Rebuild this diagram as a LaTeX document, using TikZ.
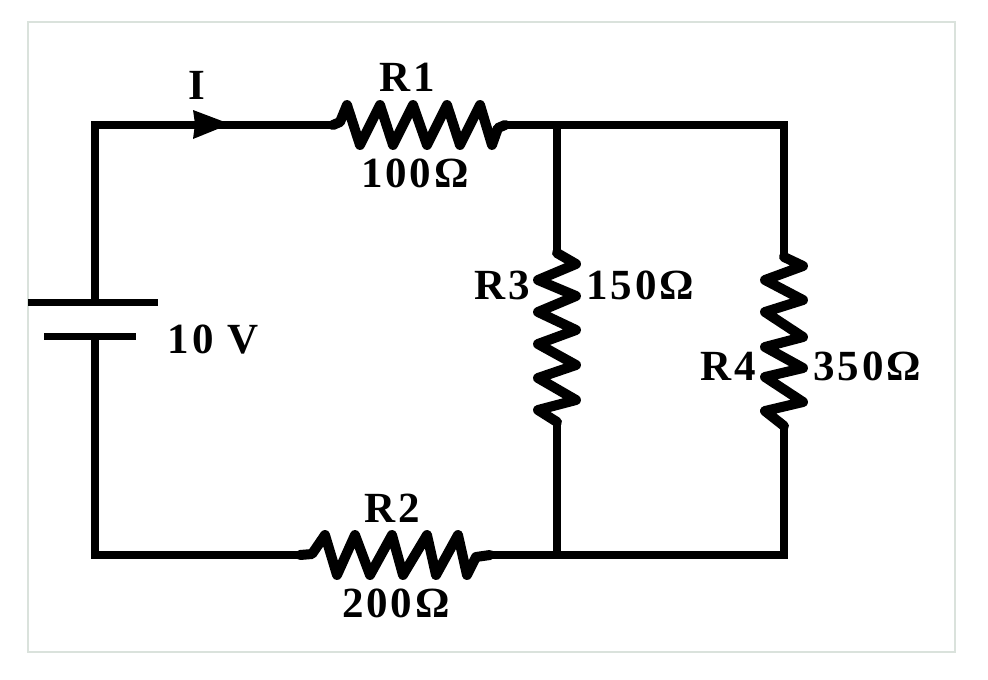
\documentclass[tikz,border=0pt]{standalone}
\usepackage{fontspec}
\setmainfont{Liberation Serif}[LetterSpace=7]
\definecolor{framecol}{RGB}{218,226,220}
\tikzset{
  wire/.style={draw=black,line width=8pt,line join=miter},
  zig/.style={draw=black,line width=10pt,line join=round,line cap=round},
  lab/.style={inner sep=0pt,font=\fontsize{43}{43}\selectfont\bfseries,text=black},
  frame/.style={draw=framecol,line width=1.5pt}
}
\begin{document}
\begin{tikzpicture}[x=1pt,y=-1pt]
\useasboundingbox (0,0) rectangle (988,680);
\fill[white] (0,0) rectangle (988,680);
\draw[frame] (28,22) rectangle (955,652);
% corners and junctions
\coordinate (tl) at (95,125);
\coordinate (tr) at (784,125);
\coordinate (bl) at (95,555);
\coordinate (br) at (784,555);
\coordinate (jt) at (557,125);
\coordinate (jb) at (557,555);
\coordinate (bp) at (95,302);
\coordinate (bn) at (95,336);
\coordinate (r1a) at (333,125);
\coordinate (r1b) at (505,125);
\coordinate (r2a) at (300,555);
\coordinate (r2b) at (490,555);
\coordinate (r3a) at (557,253);
\coordinate (r3b) at (557,422);
\coordinate (r4a) at (784,257);
\coordinate (r4b) at (784,426);
% wires
\draw[wire] (bp) -- (tl) -- (r1a);
\draw[wire] (r1b) -- (tr) -- (r4a);
\draw[wire] (jt) -- (r3a);
\draw[wire] (r3b) -- (jb);
\draw[wire] (r4b) -- (br) -- (r2b);
\draw[wire] (r2a) -- (bl) -- (bn);
% battery
\draw[draw=black,line width=7pt] (28,302) -- (158,302);
\draw[draw=black,line width=7pt] (44,336) -- (136,336);
% resistors
\draw[zig] (r1a) -- (340,122) -- (347,105) -- (360,145) -- (380,105) -- (393,145) -- (413,105) -- (427,145) -- (447,105) -- (460,145) -- (480,105) -- (492,145) -- (498,128) -- (r1b);
\draw[zig] (r2a) -- (312,554) -- (325,535) -- (337,575) -- (355,535) -- (370,575) -- (392,535) -- (403,575) -- (427,535) -- (436,575) -- (458,535) -- (467,575) -- (476,557) -- (r2b);
\draw[zig] (r3a) -- (576,264) -- (538,280) -- (576,296) -- (538,312) -- (576,330) -- (538,344) -- (576,365) -- (538,378) -- (576,400) -- (538,410) -- (r3b);
\draw[zig] (r4a) -- (803,266) -- (765,280) -- (803,300) -- (765,312) -- (803,337) -- (765,347) -- (803,368) -- (765,377) -- (803,402) -- (765,411) -- (r4b);
% arrow
\fill[black] (230,124) -- (193,110) -- (195,124) -- (193,139) -- cycle;
% labels
\node[lab] (li) at (197,85) {I};
\node[lab] (lr1) at (407,77) {R1};
\node[lab] (v1) at (415,173) {100Ω};
\node[lab] (lr2) at (392,508) {R2};
\node[lab] (v2) at (396,603) {200Ω};
\node[lab] (lr3) at (502,285) {R3};
\node[lab] (v3) at (640,285) {150Ω};
\node[lab] (lr4) at (728,366) {R4};
\node[lab] (v4) at (867,366) {350Ω};
\node[lab] (lv) at (213,340) {10 V};
\end{tikzpicture}
\end{document}
